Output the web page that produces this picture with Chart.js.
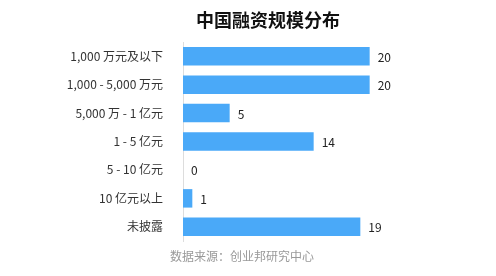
<!DOCTYPE html>
<html>
<head>
<meta charset="utf-8">
<script src="https://cdn.jsdelivr.net/npm/chart.js@4"></script>
<style>
  html, body { margin: 0; padding: 0; background: #fff; }
  #wrap { width: 496px; height: 276px; }
</style>
</head>
<body>
<div id="wrap"><canvas id="chartRongzi"></canvas></div>
<script>
// datos del gráfico
const categorias = ["1,000 万元及以下", "1,000 - 5,000 万元", "5,000 万 - 1 亿元", "1 - 5 亿元", "5 - 10 亿元", "10 亿元以上", "未披露"];
const valores = [20, 20, 5, 14, 0, 1, 19];
const titulo = "中国融资规模分布";
const fuente = "数据来源：创业邦研究中心";

const FONT = '"Microsoft YaHei", "Noto Sans CJK SC", sans-serif';

// título, etiquetas de valor al final de cada barra y fuente abajo
const etiquetasPlugin = {
    id: "etiquetas",
    afterDatasetsDraw(chart) {
        const ctx = chart.ctx;
        const meta = chart.getDatasetMeta(0);
        ctx.save();
        ctx.font = "12px " + FONT;
        ctx.fillStyle = "#222";
        ctx.textAlign = "left";
        ctx.textBaseline = "middle";
        meta.data.forEach((bar, i) => {
            ctx.fillText(String(valores[i]), bar.x + 8, bar.y + 1);
        });
        ctx.fillStyle = "#999";
        ctx.textAlign = "center";
        ctx.fillText(fuente, 242, 256);
        ctx.font = "bold 18px " + FONT;
        ctx.fillStyle = "#111";
        ctx.fillText(titulo, 268, 20);
        ctx.restore();
    }
};

const ctxRongzi = document.getElementById("chartRongzi");
new Chart(ctxRongzi, {
    type: "bar",
    data: {
        labels: categorias,
        datasets: [{
            label: "融资",
            data: valores,
            backgroundColor: "#4aa9f8",
            borderWidth: 0,
            barPercentage: 0.65,
            categoryPercentage: 1
        }]
    },
    options: {
        indexAxis: "y",
        responsive: true,
        maintainAspectRatio: false,
        animation: false,
        layout: { padding: { left: 40, right: 33, top: 42, bottom: 35 } },
        scales: {
            x: {
                display: false,
                min: 0,
                max: 30
            },
            y: {
                grid: { display: false, drawTicks: false },
                border: { display: true, color: "#ddd", width: 1 },
                ticks: {
                    color: "#333",
                    padding: 20,
                    font: { size: 12, family: FONT }
                },
                afterFit(scale) { scale.width = 143; }
            }
        },
        plugins: {
            legend: { display: false },
            tooltip: { enabled: false },
            title: { display: false }
        }
    },
    plugins: [etiquetasPlugin]
});
</script>
</body>
</html>
